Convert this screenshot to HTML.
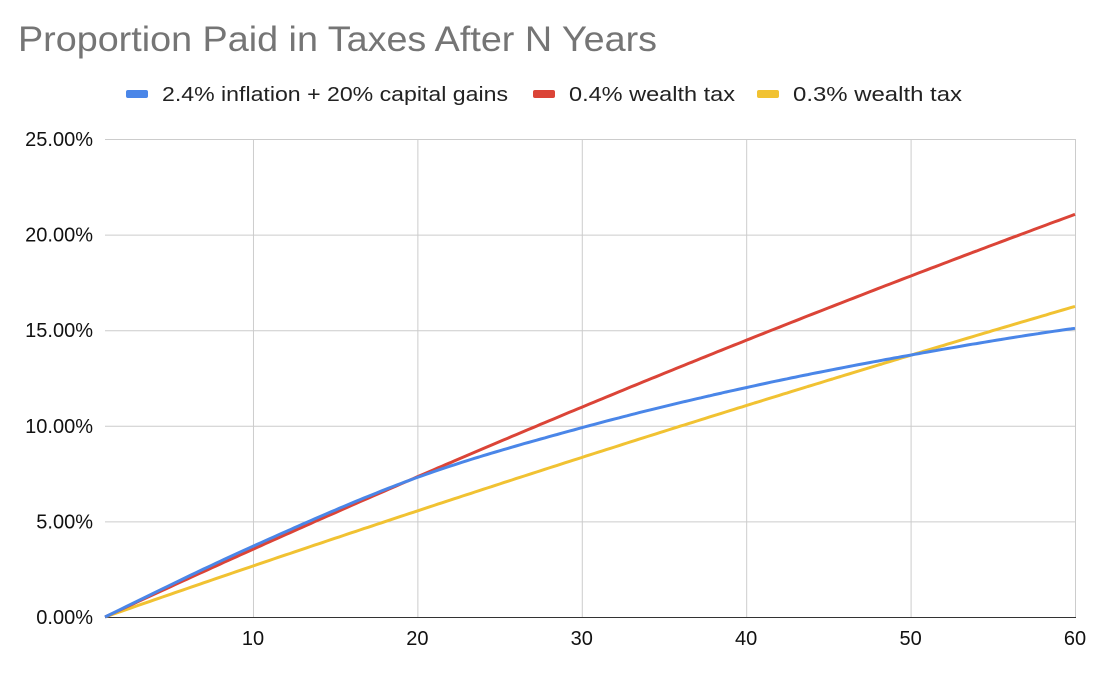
<!DOCTYPE html>
<html><head><meta charset="utf-8"><style>
body{margin:0;background:#fff;width:1100px;height:668px;overflow:hidden;font-family:"Liberation Sans",Arial,sans-serif}
</style></head><body>
<svg id="s" width="1100" height="668" xmlns="http://www.w3.org/2000/svg" font-family="Liberation Sans, Arial, sans-serif">
<text x="18" y="51" font-size="35" fill="#757575" textLength="639" lengthAdjust="spacingAndGlyphs">Proportion Paid in Taxes After N Years</text>
<rect x="126" y="90" width="22" height="8" rx="2" fill="#4a86e8"/>
<text x="162" y="101" font-size="20" fill="#222" textLength="346" lengthAdjust="spacingAndGlyphs">2.4% inflation + 20% capital gains</text>
<rect x="533" y="90" width="22" height="8" rx="2" fill="#db4437"/>
<text x="569" y="101" font-size="20" fill="#222" textLength="166" lengthAdjust="spacingAndGlyphs">0.4% wealth tax</text>
<rect x="757" y="90" width="22" height="8" rx="2" fill="#f1c232"/>
<text x="793" y="101" font-size="20" fill="#222" textLength="169" lengthAdjust="spacingAndGlyphs">0.3% wealth tax</text>
<g id="grid" stroke="#cccccc" stroke-width="1"></g>
<g id="lab" font-size="20" fill="#111"></g>
<g id="ser" fill="none" stroke-width="3" stroke-linejoin="round"></g>
</svg>
<script>
var ns="http://www.w3.org/2000/svg";
function el(p,t,a,txt){var e=document.createElementNS(ns,t);for(var k in a)e.setAttribute(k,a[k]);if(txt)e.textContent=txt;document.getElementById(p).appendChild(e);}
var y0=617,yPer=(617-139)/25,x1=105,xPer=(1075-105)/59;
function X(n){return x1+(n-1)*xPer}function Y(v){return y0-v*yPer}
for(var i=0;i<=5;i++){var y=Y(i*5);el("grid","line",{x1:105,x2:1076,y1:y+0.5,y2:y+0.5});el("lab","text",{x:93,y:y+7,"text-anchor":"end"},(i*5).toFixed(2)+"%");}
for(var n=10;n<=60;n+=10){var x=X(n);el("grid","line",{x1:x+0.5,x2:x+0.5,y1:139,y2:617});el("lab","text",{x:x,y:645,"text-anchor":"middle"},""+n);}
el("grid","line",{x1:105,x2:1076,y1:617.5,y2:617.5,stroke:"#333"});
function path(f,c){var d="";for(var n=1;n<=60;n+=0.25){d+=(n==1?"M":"L")+X(n).toFixed(1)+","+Y(f(n)).toFixed(1);}el("ser","path",{d:d,stroke:c});}
var bp=[[1,0],[10,3.7],[20,7.3],[30,9.9],[40,12.0],[50,13.7],[60,15.1]];
function blue(n){var i=0;while(i<bp.length-2&&n>bp[i+1][0])i++;
var p0=bp[Math.max(i-1,0)],p1=bp[i],p2=bp[i+1],p3=bp[Math.min(i+2,bp.length-1)];
var t=(n-p1[0])/(p2[0]-p1[0]);
var m1=(p2[1]-p0[1])/(p2[0]-p0[0])*(p2[0]-p1[0]),m2=(p3[1]-p1[1])/(p3[0]-p1[0])*(p2[0]-p1[0]);
if(i==0)m1=0.42*(p2[0]-p1[0]);if(i==bp.length-2)m2=(p2[1]-p1[1])*0.85;
var t2=t*t,t3=t2*t;return (2*t3-3*t2+1)*p1[1]+(t3-2*t2+t)*m1+(-2*t3+3*t2)*p2[1]+(t3-t2)*m2;}
path(function(n){return 100*(1-Math.pow(0.997,n-1))},"#f1c232");
path(function(n){return 100*(1-Math.pow(0.996,n-1))},"#db4437");
path(blue,"#4a86e8");
</script>
</body></html>
